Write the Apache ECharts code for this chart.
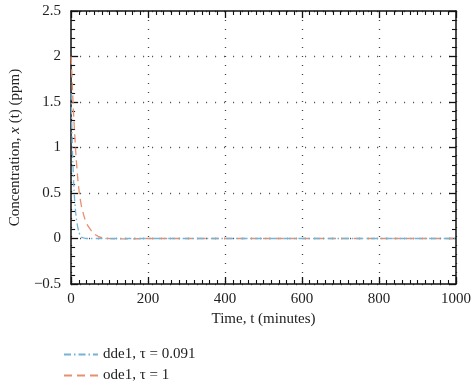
<!DOCTYPE html>
<html><head><meta charset="utf-8">
<script src="https://cdn.jsdelivr.net/npm/echarts@6/dist/echarts.min.js"></script>
<style>html,body{margin:0;padding:0;background:#fff}#c{width:474px;height:390px}</style>
</head><body><div id="c"></div>
<script>
var ddeTime = [0, 2, 4, 6, 8, 10, 12, 15, 18, 22, 26, 30, 40, 60, 100, 200, 400, 600, 800, 1000];
var ddeVals = [1.6, 1.2, 0.9, 0.68, 0.5, 0.38, 0.28, 0.18, 0.11, 0.05, 0.02, 0.01, 0.0, 0.0, 0.0, 0.0, 0.0, 0.0, 0.0, 0.0];
var odeTime = [0, 5, 10, 15, 20, 25, 30, 40, 50, 60, 70, 80, 100, 150, 200, 400, 600, 800, 1000];
var odeVals = [2.0, 1.5, 1.1, 0.78, 0.55, 0.4, 0.3, 0.17, 0.1, 0.05, 0.025, 0.01, 0.0, -0.005, 0.0, 0.0, 0.0, 0.0, 0.0];
var xTicks = [0, 200, 400, 600, 800, 1000];
var yTicks = [-0.5, 0, 0.5, 1, 1.5, 2, 2.5];
var seriesNames = ['dde1, \u03c4 = 0.091', 'ode1, \u03c4 = 1'];

function pairs(t, v) { return t.map(function (x, i) { return [x, v[i]]; }); }
var font = 'Liberation Serif';
function axisLine() { return { show: true, onZero: false, lineStyle: { color: '#111', width: 1.5 } }; }
function tick() { return { show: true, inside: true, length: 7, lineStyle: { color: '#111', width: 1.3 } }; }
function minor(n) { return { show: true, splitNumber: n, length: 4, lineStyle: { color: '#111', width: 1.1 } }; }
var chart = echarts.init(document.getElementById('c'));
chart.setOption({
  animation: false,
  backgroundColor: '#fff',
  grid: { left: 50, right: 16, top: 11, bottom: 106 },
  legend: {
    orient: 'vertical', left: 58, top: 342, itemWidth: 34, itemHeight: 12, itemGap: 6,
    textStyle: { fontFamily: font, fontSize: 15, color: '#222' },
    itemStyle: { color: 'rgba(0,0,0,0)', borderWidth: 0, opacity: 0 },
    data: seriesNames
  },
  xAxis: [
    {
      type: 'value', position: 'bottom', min: xTicks[0], max: xTicks[xTicks.length - 1], interval: 200,
      axisLine: axisLine(), axisTick: tick(), minorTick: minor(10),
      name: 'Time, t (minutes)', nameLocation: 'middle', nameGap: 28,
      nameTextStyle: { fontFamily: font, fontSize: 15, color: '#222' },
      axisLabel: { fontFamily: font, fontSize: 15, color: '#222', margin: 8, formatter: function (v) { return String(v); } },
      splitLine: { show: true, lineStyle: { type: [1, 8], color: '#444', width: 1.3 } }
    },
    {
      type: 'value', position: 'top', min: 0, max: 1000, interval: 200,
      axisLine: axisLine(), axisTick: tick(), minorTick: minor(10),
      axisLabel: { show: false }, splitLine: { show: false }
    }
  ],
  yAxis: [
    {
      type: 'value', position: 'left', min: yTicks[0], max: yTicks[yTicks.length - 1], interval: 0.5,
      axisLine: axisLine(), axisTick: tick(), minorTick: minor(5),
      name: 'Concentration, {i|x} (t) (ppm)', nameLocation: 'middle', nameGap: 40,
      nameTextStyle: { fontFamily: font, fontSize: 15, color: '#222', rich: { i: { fontFamily: font, fontSize: 15, fontStyle: 'italic', color: '#222' } } },
      axisLabel: { fontFamily: font, fontSize: 15, color: '#222', margin: 10,
        formatter: function (v) { return String(v).replace('-', '\u2212'); } },
      splitLine: { show: true, lineStyle: { type: [1, 8], color: '#444', width: 1.3 } }
    },
    {
      type: 'value', position: 'right', min: -0.5, max: 2.5, interval: 0.5,
      axisLine: axisLine(), axisTick: tick(), minorTick: minor(5),
      axisLabel: { show: false }, splitLine: { show: false }
    }
  ],
  series: [
    {
      name: seriesNames[0], type: 'line', data: pairs(ddeTime, ddeVals), symbol: 'none', smooth: true,
      color: '#74b4d8', z: 3,
      lineStyle: { color: '#74b4d8', width: 1.3, type: [7, 3, 1.5, 3] }
    },
    {
      name: seriesNames[1], type: 'line', data: pairs(odeTime, odeVals), symbol: 'none', smooth: true,
      color: '#e8906e', z: 2,
      lineStyle: { color: '#e8906e', width: 1.3, type: [8, 5] }
    }
  ]
});
</script></body></html>
